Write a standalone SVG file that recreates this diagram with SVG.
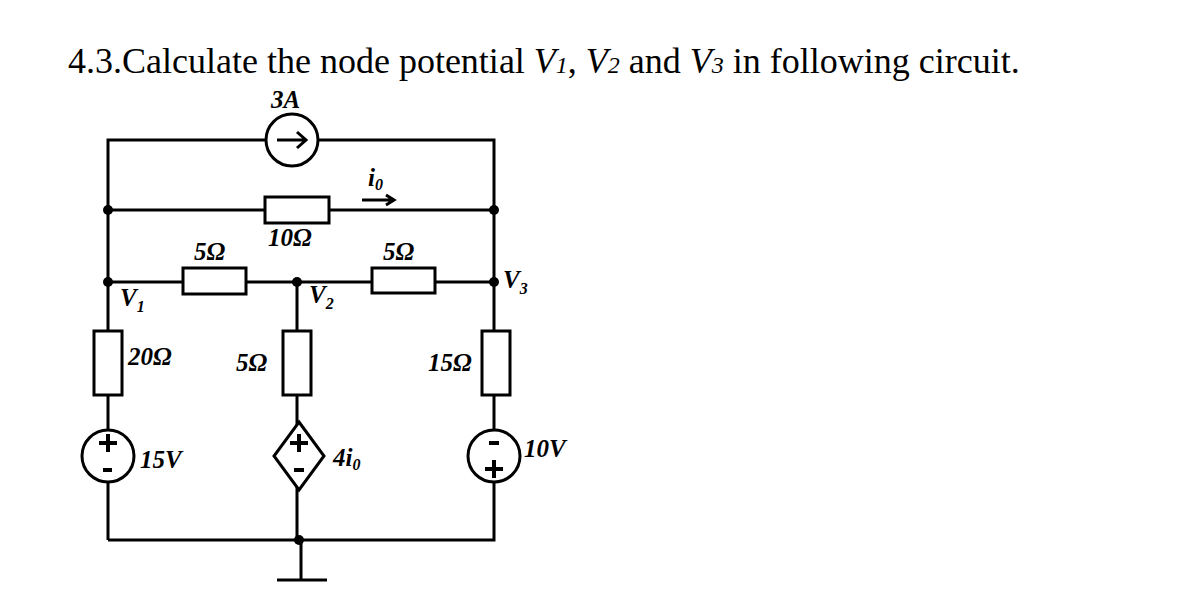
<svg xmlns="http://www.w3.org/2000/svg" width="1182" height="600" viewBox="0 0 1182 600">
<style>
.w{stroke:#000;stroke-width:3;fill:none}
.b{stroke:#000;stroke-width:3;fill:#fff}
.pm{stroke:#000;stroke-width:4;fill:none}
.l{font-family:"Liberation Serif",serif;font-style:italic;font-weight:bold;font-size:25px}
.s{font-family:"Liberation Serif",serif;font-style:italic;font-weight:bold;font-size:16px}
</style>
<rect width="1182" height="600" fill="#fff"/>
<text x="68" y="73" font-family="Liberation Serif,serif" font-size="36">4.3.Calculate the node potential <tspan font-style="italic">V</tspan><tspan font-size="24" font-style="italic">1</tspan>, <tspan font-style="italic">V</tspan><tspan font-size="24" font-style="italic">2</tspan> and <tspan font-style="italic">V</tspan><tspan font-size="24" font-style="italic">3</tspan> in following circuit.</text>
<g id="wires" class="w">
<path d="M108 540V140H494V540H108"/>
<path d="M108 210H494M108 282H494M297 282V540M301 540V580M277 580H327"/>
</g>
<g id="dots">
<circle cx="108" cy="210" r="5"/><circle cx="494" cy="210" r="5"/>
<circle cx="108" cy="282" r="5"/><circle cx="297" cy="282" r="5"/><circle cx="494" cy="282" r="5"/>
<circle cx="299" cy="540" r="5"/>
</g>
<g id="I3A"><circle class="b" cx="292" cy="140" r="26"/><path class="w" d="M277 140H305M297 132L306 140L297 148"/><text class="l" x="271" y="108">3A</text></g>
<g id="R10"><rect class="b" x="265" y="197" width="64" height="26"/><text class="l" x="268" y="246">10Ω</text></g>
<g id="i0"><text class="l" x="368" y="186">i<tspan class="s" dy="4">0</tspan></text><path class="w" stroke-width="2" d="M362 200H393M386 195L394 200L386 205"/></g>
<g id="R5a"><rect class="b" x="183" y="268" width="63" height="26"/><text class="l" x="194" y="260">5Ω</text></g>
<g id="R5b"><rect class="b" x="372" y="268" width="63" height="25"/><text class="l" x="383" y="260">5Ω</text></g>
<g id="V1"><text class="l" x="120" y="306">V<tspan class="s" dy="6">1</tspan></text></g>
<g id="V2"><text class="l" x="309" y="303">V<tspan class="s" dy="6">2</tspan></text></g>
<g id="V3"><text class="l" x="503" y="288">V<tspan class="s" dy="6">3</tspan></text></g>
<g id="R20"><rect class="b" x="94" y="331" width="28" height="64"/><text class="l" x="128" y="365">20Ω</text></g>
<g id="R5c"><rect class="b" x="283" y="331" width="28" height="64"/><text class="l" x="236" y="371">5Ω</text></g>
<g id="R15"><rect class="b" x="482" y="331" width="28" height="64"/><text class="l" x="428" y="371">15Ω</text></g>
<g id="V15"><circle class="b" cx="108" cy="456" r="26"/><path class="pm" d="M108 434V452M99 443H117M103 470H112"/><text class="l" x="140" y="468">15V</text></g>
<g id="dep"><path class="b" d="M299 422L324 456L299 490L274 456Z"/><path class="pm" d="M299 434V452M290 443H308M294 470H304"/><text class="l" x="333" y="466">4i<tspan class="s" dy="4">0</tspan></text></g>
<g id="V10"><circle class="b" cx="494" cy="456" r="26"/><path class="pm" d="M489 443H499M494 460V478M485 469H503"/><text class="l" x="524" y="457">10V</text></g>
</svg>
